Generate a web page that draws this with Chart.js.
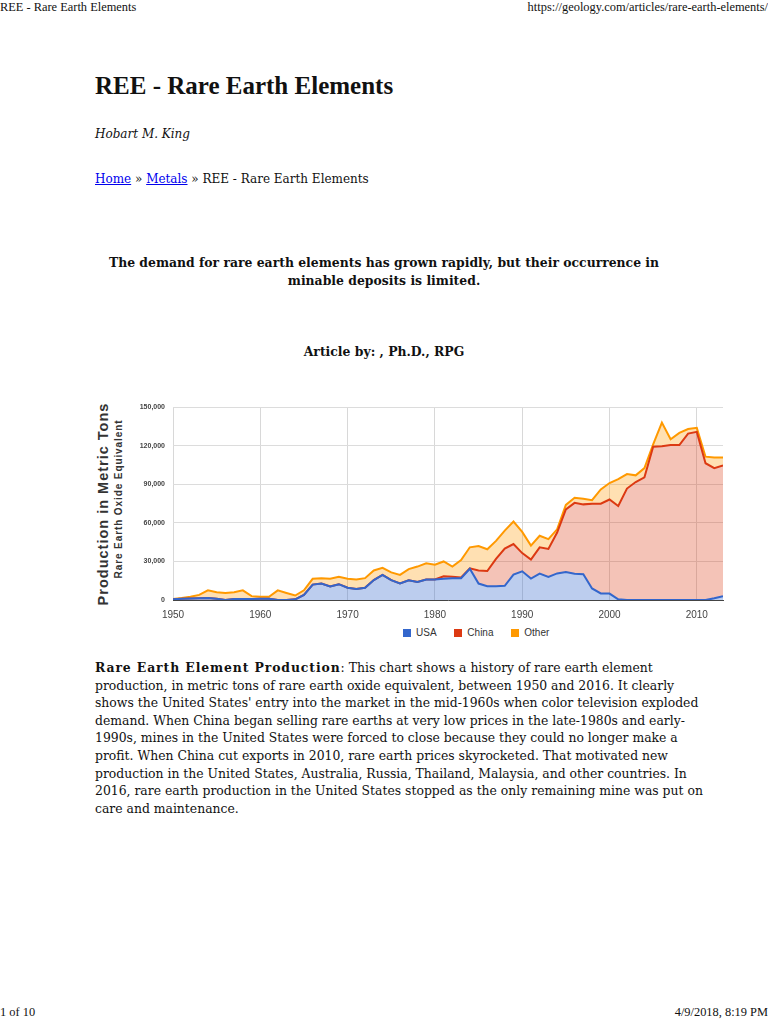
<!DOCTYPE html>
<html lang="en">
<head>
    <meta charset="UTF-8">
    <title>REE - Rare Earth Elements</title>
    <script src="https://cdn.jsdelivr.net/npm/chart.js"></script>
    <style>
        body {
            margin: 0;
            width: 768px;
            height: 1024px;
            position: relative;
            background: #fff;
            font-family: "DejaVu Serif", serif;
            color: #111;
            overflow: hidden;
        }
        .print {
            position: absolute;
            font-family: "Liberation Serif", serif;
            font-size: 12.4px;
        }
        h1 {
            position: absolute;
            left: 95px;
            top: 72px;
            margin: 0;
            font-family: "Liberation Serif", serif;
            font-size: 25px;
        }
        #author {
            position: absolute;
            left: 95px;
            top: 127px;
            font-style: italic;
            font-size: 12px;
        }
        #crumbs {
            position: absolute;
            left: 95px;
            top: 172px;
            font-size: 12px;
        }
        #crumbs a { color: #0000ee; }
        .lead {
            position: absolute;
            left: 0;
            width: 768px;
            text-align: center;
            font-weight: bold;
            font-size: 12.4px;
            line-height: 18px;
        }
        #plot {
            position: absolute;
            left: 120px;
            top: 395px;
        }
        .ytitle {
            position: absolute;
            transform: translate(-50%, -50%) rotate(-90deg);
            white-space: nowrap;
            font-family: "Liberation Sans", sans-serif;
            font-weight: bold;
            color: #333;
        }
        #legend {
            position: absolute;
            left: 403px;
            top: 627px;
            font-family: "Liberation Sans", sans-serif;
            font-size: 10px;
            color: #333;
            white-space: nowrap;
        }
        #legend span.box {
            display: inline-block;
            width: 8px;
            height: 8px;
            vertical-align: -1px;
            margin-right: 5px;
        }
        #legend span.item { margin-right: 15px; }
        #note {
            position: absolute;
            left: 95px;
            top: 659px;
            font-size: 12.4px;
            line-height: 17.6px;
            white-space: nowrap;
        }
        #note b { letter-spacing: 0.9px; }
    </style>
</head>
<body>
    <div class="print" style="left:0; top:0;">REE - Rare Earth Elements</div>
    <div class="print" style="right:0; top:0;">https://geology.com/articles/rare-earth-elements/</div>

    <h1>REE - Rare Earth Elements</h1>
    <div id="author">Hobart M. King</div>
    <div id="crumbs"><a href="#">Home</a> » <a href="#">Metals</a> » REE - Rare Earth Elements</div>

    <div class="lead" style="top:254px;">The demand for rare earth elements has grown rapidly, but their occurrence in<br>minable deposits is limited.</div>
    <div class="lead" style="top:343px;">Article by: , Ph.D., RPG</div>

    <div class="ytitle" style="left:103px; top:504px; font-size:14.5px; letter-spacing:1px;">Production in Metric Tons</div>
    <div class="ytitle" style="left:118px; top:499px; font-size:10px; letter-spacing:0.9px;">Rare Earth Oxide Equivalent</div>
    <canvas id="plot" width="615" height="230"></canvas>
    <div id="legend">
        <span class="item"><span class="box" style="background:#3366cc"></span>USA</span>
        <span class="item"><span class="box" style="background:#dc3912"></span>China</span>
        <span class="item"><span class="box" style="background:#ff9900"></span>Other</span>
    </div>

    <div id="note"><b>Rare Earth Element Production</b>: This chart shows a history of rare earth element<br>
production, in metric tons of rare earth oxide equivalent, between 1950 and 2016. It clearly<br>
shows the United States' entry into the market in the mid-1960s when color television exploded<br>
demand. When China began selling rare earths at very low prices in the late-1980s and early-<br>
1990s, mines in the United States were forced to close because they could no longer make a<br>
profit. When China cut exports in 2010, rare earth prices skyrocketed. That motivated new<br>
production in the United States, Australia, Russia, Thailand, Malaysia, and other countries. In<br>
2016, rare earth production in the United States stopped as the only remaining mine was put on<br>
care and maintenance.</div>

    <div class="print" style="left:0; top:1005px;">1 of 10</div>
    <div class="print" style="right:0; top:1005px;">4/9/2018, 8:19 PM</div>

    <script>
        const years = [1950, 1951, 1952, 1953, 1954, 1955, 1956, 1957, 1958, 1959,
            1960, 1961, 1962, 1963, 1964, 1965, 1966, 1967, 1968, 1969,
            1970, 1971, 1972, 1973, 1974, 1975, 1976, 1977, 1978, 1979,
            1980, 1981, 1982, 1983, 1984, 1985, 1986, 1987, 1988, 1989,
            1990, 1991, 1992, 1993, 1994, 1995, 1996, 1997, 1998, 1999,
            2000, 2001, 2002, 2003, 2004, 2005, 2006, 2007, 2008, 2009,
            2010, 2011, 2012, 2013];

        // metric tons REO
        const usa = [500, 1000, 1200, 1300, 1500, 1000, 0, 700, 800, 800,
            1000, 1000, 0, 0, 500, 4000, 12000, 12800, 10500, 12300,
            9500, 8500, 9500, 15500, 19500, 15400, 12800, 15400, 14000, 16000,
            16000, 16500, 17000, 17000, 24300, 12800, 10700, 10700, 11000, 19700,
            22300, 16700, 20500, 18000, 20700, 21800, 20500, 20000, 9000, 5100,
            5000, 500, 0, 0, 0, 0, 0, 0, 0, 0,
            0, 0, 1300, 3000];

        const china = [0, 0, 0, 0, 0, 0, 0, 0, 0, 0,
            0, 0, 0, 0, 0, 0, 0, 0, 0, 0,
            0, 0, 0, 0, 0, 0, 0, 0, 0, 0,
            0, 2000, 1000, 500, 300, 10200, 11800, 21300, 29000, 23800,
            14200, 14800, 20500, 21700, 31800, 48700, 55100, 54400, 65900, 69800,
            73200, 72600, 86700, 91800, 95400, 119200, 119700, 120500, 120500, 129500,
            130800, 106400, 101300, 101600];

        const other = [300, 500, 1300, 2700, 6000, 5000, 5500, 5300, 6700, 2200,
            1500, 1500, 7500, 5500, 3000, 3500, 4500, 4200, 6000, 5700,
            7000, 7500, 7500, 7500, 5500, 6100, 6700, 8600, 12000, 12500,
            11500, 11500, 8000, 13500, 16400, 19000, 17000, 14000, 14000, 17500,
            16500, 10800, 9000, 7700, 2500, 3500, 3900, 4300, 2800, 11100,
            12800, 20900, 11300, 5200, 7200, 1800, 18300, 4500, 9500, 3500,
            3200, 5100, 8200, 6200];

        const yTicks = [0, 30000, 60000, 90000, 120000, 150000];

        function series(label, values, line, fill, fillTo) {
            return {
                label: label,
                data: values.map((v, i) => ({ x: years[i], y: v })),
                borderColor: line,
                backgroundColor: fill,
                borderWidth: 2,
                pointRadius: 0,
                tension: 0,
                fill: fillTo
            };
        }

        new Chart(document.getElementById('plot').getContext('2d'), {
            type: 'line',
            data: {
                datasets: [
                    series('USA', usa, '#3366cc', 'rgba(51,102,204,0.33)', 'origin'),
                    series('China', china, '#dc3912', 'rgba(220,57,18,0.3)', '-1'),
                    series('Other', other, '#ff9900', 'rgba(255,153,0,0.3)', '-1')
                ]
            },
            options: {
                responsive: false,
                animation: false,
                layout: { padding: { top: 8, right: 12, left: 0, bottom: 0 } },
                plugins: { legend: { display: false }, tooltip: { enabled: false } },
                scales: {
                    x: {
                        type: 'linear',
                        min: years[0],
                        max: years[years.length - 1],
                        afterFit: s => { s.height = 25; },
                        grid: { color: '#d8d8d8', drawTicks: false },
                        border: { color: '#444', width: 1 },
                        ticks: {
                            stepSize: 10,
                            includeBounds: false,
                            padding: 9,
                            color: '#444',
                            font: { family: 'Liberation Sans', size: 10 },
                            callback: v => String(v)
                        }
                    },
                    y: {
                        stacked: true,
                        min: 0,
                        max: 150000,
                        afterFit: s => { s.width = 53; },
                        afterBuildTicks: s => { s.ticks = yTicks.map(v => ({ value: v })); },
                        grid: { color: '#dcdcdc', drawTicks: false },
                        border: { display: false },
                        ticks: {
                            padding: 8,
                            color: '#444',
                            font: { family: 'Liberation Sans', size: 7, weight: 'bold' },
                            callback: v => v.toLocaleString('en-US')
                        }
                    }
                }
            }
        });
    </script>
</body>
</html>
